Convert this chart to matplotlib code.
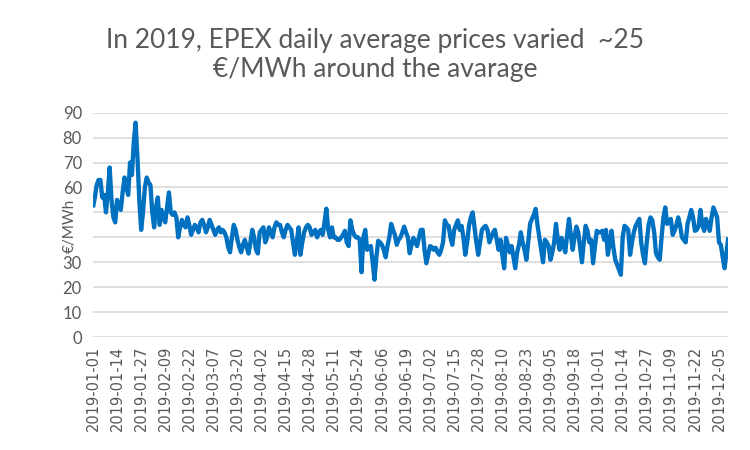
import matplotlib
matplotlib.use("Agg")
import matplotlib.pyplot as plt
import numpy as np
import pandas as pd

start_date = "2019-01-01"
prices = [
    52, 56, 61, 63, 63, 56, 57, 50, 58, 68,
    55, 48, 46, 55, 53, 51, 58, 64, 60, 57,
    70, 65, 78, 86, 72, 55, 43, 50, 60, 64,
    62, 61, 50, 44, 52, 56, 45, 51, 48, 46,
    52, 58, 50, 49, 50, 48, 40, 44, 47, 45,
    44, 48, 45, 41, 43, 45, 44, 42, 46, 47,
    45, 42, 44, 47, 45, 43, 41, 43, 44, 42,
    43, 42, 40, 36, 34, 40, 45, 43, 39, 36,
    34, 37, 39, 36, 33.5, 38, 43, 40, 35, 33.5,
    42, 43, 44, 38, 40, 44, 42, 40, 44, 46,
    45, 45, 42, 40, 43, 45, 44, 43, 38, 33,
    38, 44, 33, 38, 42, 44, 45, 44, 41, 42,
    43, 40, 42, 43, 41, 46, 51.5, 43, 40, 44,
    40, 40, 39, 39, 40, 41, 42.6, 38, 36.5, 46.8,
    43, 41, 40, 40, 39, 26, 40, 43, 35, 36,
    36.5, 30, 23, 32, 38.6, 38, 37, 35, 32, 36.5,
    40, 45.4, 43, 41, 37, 39, 40, 42, 44.3, 42,
    40, 33.6, 37, 39.8, 38, 36.5, 40, 43, 43, 35,
    29.6, 33, 36.5, 36, 35, 35.8, 34, 33, 35, 38,
    46.8, 45, 44.6, 40, 37, 43,
    45, 46.8, 43, 44.6, 40, 33, 38, 44.6, 48, 50,
    44, 38, 33, 38, 43, 44, 44.6, 43, 38, 40,
    42, 43, 39, 35, 39, 33, 27.6, 39.8, 37, 34,
    36.5, 32, 27.6, 34, 37, 42, 38, 35, 31, 38,
    45.4, 47.4, 49, 51.4, 45, 40, 35, 30, 39, 38,
    36.5, 31, 34, 38, 45.4, 39, 35, 39.8, 37, 34,
    41, 47.4, 41, 35,
    40, 44.3, 42, 36, 30, 38, 44.6, 42.6, 38, 39,
    29.6, 36, 42.6, 42, 42, 42.6, 39, 43, 33, 38,
    42.6, 35.8, 31, 29, 27, 25, 40, 44.6, 44, 43,
    33, 38, 42, 44.6, 46, 47.4, 38, 33, 29.6, 38,
    45, 48, 46.8, 42, 33.6, 32, 31, 40, 48, 52,
    45.4, 46, 47.4, 41, 42.6, 45, 48, 44.6, 40, 39,
    38, 45.4, 48, 51, 48, 42.6, 43, 44.6, 51, 45,
    42.6, 47.4, 45, 42.6, 48, 52, 50, 48, 38, 37,
    32, 27.6, 33.6, 40,
]
dates = pd.date_range(start_date, periods=len(prices), freq="D")
tick_step = 13
y_ticks = list(range(0, 91, 10))
hidden_y_labels = [40, 50]  # covered by the axis title in the reference

title = "In 2019, EPEX daily average prices varied  ~25\n€/MWh around the avarage"
ylabel = "€/MWh"

gray = "#595959"
fig = plt.figure(figsize=(7.5, 4.5), dpi=100)
ax = fig.add_axes([0.124, 0.251, 0.847, 0.4986])
x = np.arange(len(prices))
ax.plot(x, prices, color="#0070C0", lw=3.1, solid_joinstyle="round", solid_capstyle="butt", zorder=3)

ax.set_ylim(0, 90)
ax.set_yticks(y_ticks)
ax.set_yticklabels(["" if v in hidden_y_labels else str(v) for v in y_ticks],
                   family="Lato", fontsize=12, color=gray)
ax.set_xlim(0, len(prices) - 1)
tick_pos = x[::tick_step]
ax.set_xticks(tick_pos)
ax.set_xticklabels([dates[i].strftime("%Y-%m-%d") for i in tick_pos], rotation=90,
                   fontsize=10.5, color=gray, family="DejaVu Sans")
ax.tick_params(axis="both", length=0, pad=6)
ax.tick_params(axis="y", pad=8)
ax.grid(axis="y", color="#d9d9d9", lw=1.2, zorder=0)
for s in ax.spines.values():
    s.set_visible(False)

fig.text(0.093, 0.497, ylabel, rotation=90, ha="center", va="center", fontsize=11,
         color=gray, family="Lato")
fig.text(0.5, 0.877, title, ha="center", va="center", fontsize=19, color=gray,
         family="Lato", linespacing=1.2)

fig.savefig("out.png", dpi=100)
